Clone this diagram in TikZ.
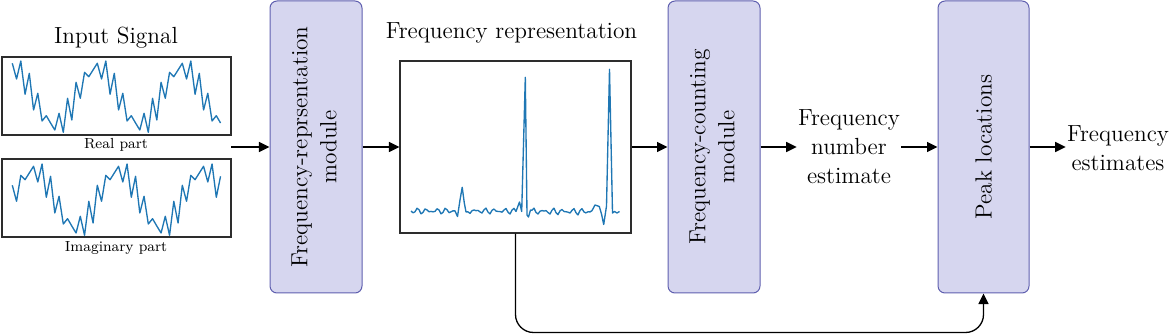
\documentclass[tikz,border=0pt]{standalone}
\usetikzlibrary{arrows.meta}
\newlength{\pxu}\setlength{\pxu}{0.5139pt}
\definecolor{modfill}{RGB}{214,214,239}
\definecolor{moddraw}{RGB}{95,95,175}
\definecolor{sigblue}{RGB}{31,119,180}
\definecolor{boxdraw}{RGB}{45,45,45}
\tikzset{
  module/.style={draw=moddraw, fill=modfill, line width=1\pxu, rounded corners=7\pxu,
    minimum width=92\pxu, minimum height=292\pxu, inner sep=0pt,
    font=\fontsize{12}{14.9}\selectfont},
  plotbox/.style={draw=boxdraw, line width=1.2\pxu, inner sep=0pt},
  sig/.style={draw=sigblue, line width=1.35\pxu, line join=round},
  flow/.style={draw=black, line width=1.3\pxu, -{Triangle[length=5.4pt,width=5.14pt]}},
  bigtext/.style={font=\fontsize{12}{14.9}\selectfont, align=center, inner sep=1\pxu},
  smalltext/.style={font=\fontsize{7.5}{9}\selectfont, inner sep=0pt},
}
\def\sigvals{{63.3,79,61,94.3,73.3,110,93.3,121,115.7,123,130,113.3,132.3,98.3,120,82.3,98.3,72.3,76.7,70}}
\begin{document}
\begin{tikzpicture}[x=\pxu, y=-\pxu]
\useasboundingbox (0,0) rectangle (1173,335);

% input signal
\node[bigtext] (title) at (116,37.5) {Input Signal};
\node[plotbox, minimum width=229\pxu, minimum height=78\pxu] (real) at (116.5,96) {};
\node[smalltext] (reallab) at (116,144.5) {Real part};
\node[plotbox, minimum width=229\pxu, minimum height=78\pxu] (imag) at (116.5,198) {};
\node[smalltext] (imaglab) at (116,248) {Imaginary part};

\draw[sig] (12.3,63.3) \foreach \i in {1,...,49}{ -- ({12.3+4.25*\i},{\sigvals[int(mod(\i,20))]}) };
\draw[sig] (12.3,185.3) \foreach \i in {1,...,49}{ -- ({12.3+4.25*\i},{\sigvals[int(mod(\i+15,20))]+103}) };

% frequency representation
\node[bigtext] (frtitle) at (511.5,33) {Frequency representation};
\node[plotbox, minimum width=231\pxu, minimum height=172\pxu] (fr) at (515.5,147) {};

\draw[sig] (411,211)
  \foreach \x in {413,415,...,455}{ -- (\x,{211+1.8*sin(37*(\x-400))+1.4*sin(53*(\x-400)+40)}) }
  -- (457.5,216.5) -- (460,200) -- (462.2,187.3) -- (464.3,203) -- (466,212)
  \foreach \x in {468,470,...,516}{ -- (\x,{211+1.8*sin(37*(\x-400))+1.4*sin(53*(\x-400)+40)}) }
  -- (519.5,202) -- (521.7,211.5) -- (525.3,77.3) -- (527,215) -- (528.5,217) -- (530.5,210)
  \foreach \x in {532,534,...,592}{ -- (\x,{211.5+2*sin(37*(\x-400))+1.6*sin(53*(\x-400)+40)}) }
  -- (595,205) -- (599.3,206.5) -- (601.5,214) -- (603.7,224.5) -- (606.5,206)
  -- (609.5,69.3) -- (612.5,213) -- (614.5,211.5) -- (617,213) -- (619.5,211.5);

% modules
\node[module] (m1) at (316,147) {\rotatebox{90}{\begin{tabular}{@{}c@{}}Frequency-reprsentation\\module\end{tabular}}};
\node[module] (m2) at (714,147) {\rotatebox{90}{\begin{tabular}{@{}c@{}}Frequency-counting\\module\end{tabular}}};
\node[module, minimum width=91\pxu] (m3) at (983.5,147) {\rotatebox{90}{Peak locations}};

% texts
\node[bigtext] (fne) at (849,147) {Frequency\\number\\estimate};
\node[bigtext] (fe) at (1118,148) {Frequency\\estimates};

% connectors
\coordinate (sigout) at (231,147);
\draw[flow] (sigout) -- (m1.west);
\draw[flow] (m1.east) -- (fr.west);
\draw[flow] (fr.east) -- (m2.west);
\draw[flow] (m2.east) -- (fne.west);
\draw[flow] (fne.east) -- (m3.west);
\draw[flow] (m3.east) -- (m3.east -| fe.west);
\draw[flow, rounded corners=18\pxu] (fr.south) |- ([yshift=-39\pxu]m3.south) -- (m3.south);
\end{tikzpicture}
\end{document}
